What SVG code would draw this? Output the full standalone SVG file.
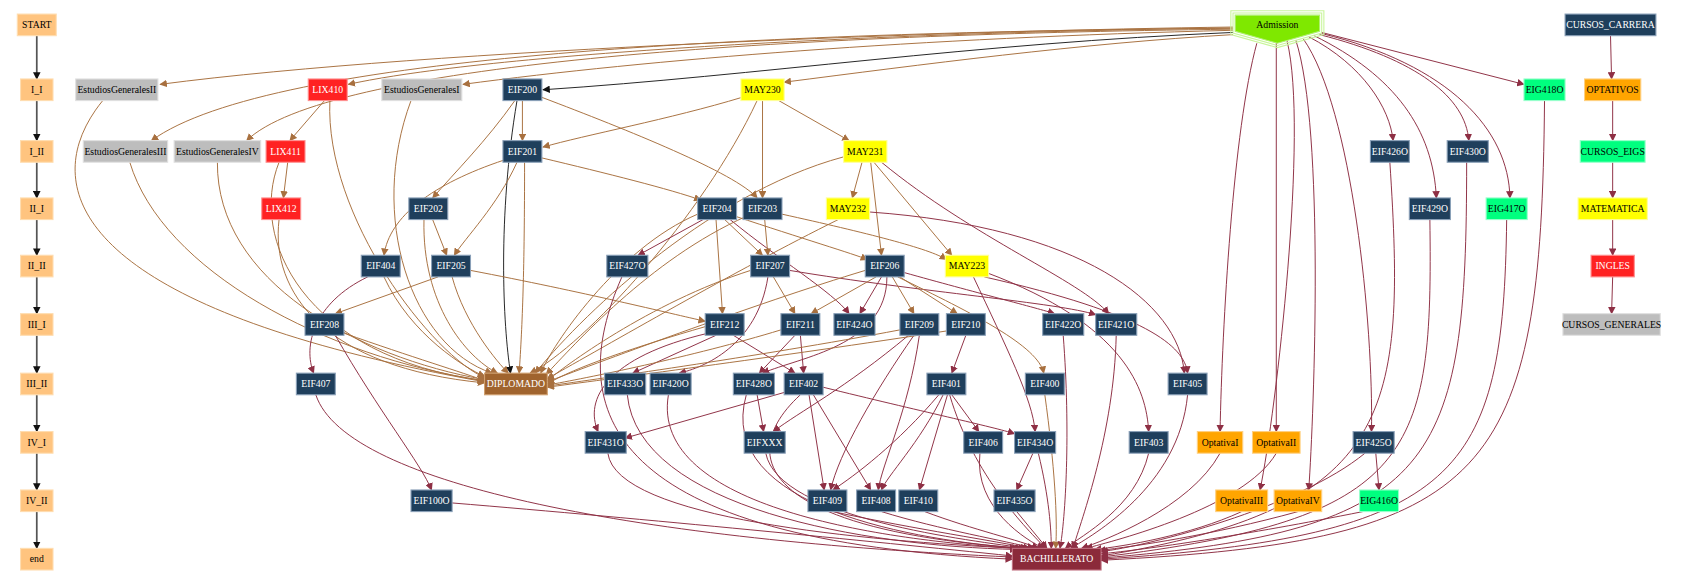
<svg xmlns="http://www.w3.org/2000/svg" width="1696" height="583" viewBox="0 0 1696 583">
<style>
text{font-family:"Liberation Serif","Times New Roman",serif;font-size:9px;text-anchor:middle}
.n rect{stroke-width:1}
.nv rect{fill:#1F3F5C;stroke:#8AA0B8}.nv text{fill:#fff}
.lv rect{fill:#FFC47F;stroke:#FFDDB0}.lv text{fill:#000}
.gr rect{fill:#BDBDBD;stroke:#E0E0E0}.gr text{fill:#000}
.rd rect{fill:#FF2222;stroke:#FF9090}.rd text{fill:#fff}
.ye rect{fill:#FFFF00;stroke:#FFFF99}.ye text{fill:#000}
.gn rect{fill:#00FF7F;stroke:#99FFCC}.gn text{fill:#000}
.or rect{fill:#FFA500;stroke:#FFD080}.or text{fill:#000}
.dp rect{fill:#A0642E;stroke:#D0A070}.dp text{fill:#fff}
.bc rect{fill:#8B2A3A;stroke:#C07080}.bc text{fill:#fff}
#edges path{fill:none;stroke-width:0.9}
.b{stroke:#A8703F;marker-end:url(#ab)}
.m{stroke:#8E2F44;marker-end:url(#am)}
.k{stroke:#222;marker-end:url(#ak)}
.kc{stroke:#555;stroke-width:1.6!important;marker-end:url(#ak)}
</style>
<defs>
<marker id="ab" viewBox="0 0 10 10" refX="9" refY="5" markerWidth="7" markerHeight="7" orient="auto" markerUnits="userSpaceOnUse"><path d="M0,0L10,5L0,10z" fill="#A8703F"/></marker>
<marker id="am" viewBox="0 0 10 10" refX="9" refY="5" markerWidth="7" markerHeight="7" orient="auto" markerUnits="userSpaceOnUse"><path d="M0,0L10,5L0,10z" fill="#8E2F44"/></marker>
<marker id="ak" viewBox="0 0 10 10" refX="9" refY="5" markerWidth="7" markerHeight="7" orient="auto" markerUnits="userSpaceOnUse"><path d="M0,0L10,5L0,10z" fill="#111"/></marker>
</defs>
<rect width="1696" height="583" fill="#fff"/>
<g transform="scale(1.0816)">
<g id="edges">
<path class="kc" d="M34,33L34,73"/><path class="kc" d="M34,93L34,130"/><path class="kc" d="M34,150L34,183"/><path class="kc" d="M34,203L34,236"/><path class="kc" d="M34,256L34,290"/><path class="kc" d="M34,310L34,345"/><path class="kc" d="M34,365L34,399"/><path class="kc" d="M34,419L34,453"/><path class="kc" d="M34,473L34,507"/>
<path class="m" d="M1489,33L1490,73"/><path class="m" d="M1491,93L1491,130"/><path class="m" d="M1491,150L1491,183"/><path class="m" d="M1491,203L1491,236"/><path class="m" d="M1491,256L1490,290"/>
<path class="b" d="M1140,25C900,28 400,45 148,78"/>
<path class="b" d="M1140,26C700,30 250,50 140,130"/>
<path class="b" d="M1140,27C700,32 300,60 228,130"/>
<path class="b" d="M1140,26C800,30 450,50 322,78"/>
<path class="b" d="M1140,28C850,35 600,55 428,78"/>
<path class="k" d="M1140,30C900,40 700,70 502,83"/>
<path class="b" d="M1140,32C1000,40 850,60 725,76"/>
<path class="m" d="M1162,40C1140,120 1130,300 1128,399"/>
<path class="m" d="M1180,40L1180,399"/>
<path class="m" d="M1190,38C1210,120 1180,380 1165,453"/>
<path class="m" d="M1198,37C1225,120 1215,380 1210,453"/>
<path class="m" d="M1205,36C1250,100 1270,300 1268,399"/>
<path class="m" d="M1210,34C1260,60 1285,100 1288,130"/>
<path class="m" d="M1215,33C1290,70 1325,120 1328,183"/>
<path class="m" d="M1220,32C1310,55 1355,90 1358,130"/>
<path class="m" d="M1222,31C1340,60 1395,120 1396,183"/>
<path class="m" d="M1222,30L1409,78"/>
<path class="b" d="M300,93L268,130"/>
<path class="b" d="M266,150L262,183"/>
<path class="b" d="M305,93C300,200 400,330 450,350"/>
<path class="b" d="M258,150C230,220 280,330 448,352"/>
<path class="b" d="M258,203C250,270 300,340 448,354"/>
<path class="b" d="M95,93C40,160 40,280 448,353"/>
<path class="b" d="M120,150C150,250 300,330 448,352"/>
<path class="b" d="M201,150C200,260 330,330 448,351"/>
<path class="b" d="M380,93C340,200 380,320 455,345"/>
<path class="b" d="M483,93L483,130"/>
<path class="b" d="M476,93C450,130 420,160 400,183"/>
<path class="b" d="M501,90C580,120 680,160 700,183"/>
<path class="k" d="M478,93C460,200 465,300 472,345"/>
<path class="b" d="M686,90C620,110 540,125 502,136"/>
<path class="b" d="M720,93L785,130"/>
<path class="b" d="M705,93L705,183"/>
<path class="b" d="M700,93C650,200 540,320 490,345"/>
<path class="b" d="M501,146C560,160 620,175 648,185"/>
<path class="b" d="M478,150C460,190 430,220 420,236"/>
<path class="b" d="M466,148C400,170 360,200 355,236"/>
<path class="b" d="M485,150C485,250 483,300 480,345"/>
<path class="b" d="M400,203L413,236"/>
<path class="b" d="M392,203C390,280 430,330 460,345"/>
<path class="b" d="M797,150L788,183"/>
<path class="b" d="M805,150L815,236"/>
<path class="b" d="M808,150L880,236"/>
<path class="b" d="M780,145C650,180 530,300 495,345"/>
<path class="m" d="M815,150C900,220 1000,260 1025,290"/>
<path class="b" d="M670,203L705,236"/>
<path class="b" d="M662,203L668,290"/>
<path class="b" d="M680,200C740,220 790,235 802,240"/>
<path class="m" d="M650,203L590,236"/>
<path class="m" d="M675,203C720,240 770,270 785,290"/>
<path class="b" d="M645,198C570,230 510,320 500,345"/>
<path class="b" d="M707,203L710,236"/>
<path class="b" d="M723,198C800,215 860,230 875,240"/>
<path class="b" d="M690,200C600,240 530,320 505,346"/>
<path class="b" d="M775,203C680,250 560,320 506,350"/>
<path class="m" d="M804,196C1000,210 1090,280 1095,345"/>
<path class="m" d="M340,256C290,280 280,320 290,345"/>
<path class="b" d="M355,256C380,310 430,340 448,348"/>
<path class="b" d="M405,256L310,290"/>
<path class="b" d="M435,250C540,270 620,290 652,297"/>
<path class="b" d="M418,256C430,300 460,335 470,345"/>
<path class="m" d="M575,256C520,380 560,500 936,517"/>
<path class="b" d="M715,256L735,290"/>
<path class="m" d="M730,250C850,270 980,280 1013,291"/>
<path class="m" d="M710,256C700,320 650,340 628,345"/>
<path class="b" d="M694,250C600,280 520,340 506,352"/>
<path class="b" d="M810,256L750,290"/>
<path class="m" d="M815,256L795,290"/>
<path class="b" d="M825,256L845,290"/>
<path class="b" d="M832,256L885,290"/>
<path class="m" d="M836,252C900,270 960,285 975,290"/>
<path class="b" d="M830,256C900,290 960,320 965,345"/>
<path class="m" d="M820,256C820,320 740,330 705,345"/>
<path class="b" d="M800,250C700,280 540,340 506,353"/>
<path class="m" d="M910,256C1060,290 1095,320 1098,345"/>
<path class="m" d="M912,252C1040,300 1060,360 1062,399"/>
<path class="m" d="M900,256C930,320 955,370 957,399"/>
<path class="m" d="M310,310C350,380 390,430 399,453"/>
<path class="b" d="M318,308C380,330 430,345 448,352"/>
<path class="m" d="M662,310L585,345"/>
<path class="m" d="M678,310L735,345"/>
<path class="m" d="M655,308C560,330 540,370 553,399"/>
<path class="b" d="M652,302C590,320 530,340 506,355"/>
<path class="m" d="M735,310L702,345"/>
<path class="m" d="M740,310L743,345"/>
<path class="b" d="M722,305C640,330 540,350 506,356"/>
<path class="m" d="M845,310C810,360 775,420 768,453"/>
<path class="m" d="M850,310C840,380 815,430 812,453"/>
<path class="m" d="M840,310C780,360 740,380 715,399"/>
<path class="b" d="M832,305C700,330 540,352 506,357"/>
<path class="m" d="M893,310L880,345"/>
<path class="b" d="M875,306C720,330 550,352 506,358"/>
<path class="m" d="M728,362L578,405"/>
<path class="m" d="M748,365L762,453"/>
<path class="m" d="M752,365L805,453"/>
<path class="m" d="M761,358C850,380 920,395 938,401"/>
<path class="m" d="M700,365L706,399"/>
<path class="m" d="M880,365L905,399"/>
<path class="m" d="M868,365C830,410 790,440 770,453"/>
<path class="m" d="M872,365C850,410 820,440 815,453"/>
<path class="m" d="M876,365L850,453"/>
<path class="m" d="M955,419L940,453"/>
<path class="m" d="M1272,419L1275,453"/>
<path class="m" d="M292,365C320,450 600,500 936,515"/>
<path class="m" d="M418,465C600,480 800,500 936,514"/>
<path class="m" d="M580,365C590,470 800,505 940,508"/>
<path class="m" d="M618,365C600,470 820,500 942,507"/>
<path class="m" d="M562,419C570,480 800,500 940,507"/>
<path class="m" d="M690,365C660,470 850,500 945,507"/>
<path class="m" d="M740,365C680,420 700,490 948,507"/>
<path class="m" d="M708,419C720,480 900,500 950,507"/>
<path class="m" d="M770,473C850,490 920,500 952,507"/>
<path class="m" d="M815,473C870,490 930,500 956,507"/>
<path class="m" d="M855,473C900,490 945,500 960,507"/>
<path class="m" d="M906,419C900,470 950,500 965,507"/>
<path class="m" d="M878,365C900,440 950,490 967,507"/>
<path class="m" d="M940,473L968,507"/>
<path class="m" d="M960,419C970,460 972,490 972,507"/>
<path class="b" d="M966,365C975,430 978,480 976,507"/>
<path class="m" d="M1062,419C1050,470 1000,495 985,507"/>
<path class="m" d="M1098,365C1090,450 1010,495 990,507"/>
<path class="m" d="M1032,310C1030,400 1000,480 992,507"/>
<path class="m" d="M983,310C990,400 985,480 980,507"/>
<path class="m" d="M1128,419C1100,470 1020,500 1000,507"/>
<path class="m" d="M1180,419C1150,470 1030,500 1004,507"/>
<path class="m" d="M1148,473C1100,495 1040,505 1012,508"/>
<path class="m" d="M1200,473C1120,495 1050,505 1016,509"/>
<path class="m" d="M1262,419C1200,470 1060,505 1018,510"/>
<path class="m" d="M1260,473C1150,495 1060,508 1018,512"/>
<path class="m" d="M1285,150C1300,380 1290,470 1018,514"/>
<path class="m" d="M1322,203C1325,420 1310,480 1018,515"/>
<path class="m" d="M1356,150C1356,430 1330,490 1018,516"/>
<path class="m" d="M1393,203C1390,440 1350,495 1018,517"/>
<path class="m" d="M1428,93C1425,440 1380,500 1018,518"/>
</g>
<g id="Admission">
<polygon points="1138,10 1224,10 1224,32 1181,44 1138,32" fill="none" stroke="#C8F59A" stroke-width="1"/>
<polygon points="1140,12 1222,12 1222,30.5 1181,42 1140,30.5" fill="none" stroke="#C8F59A" stroke-width="1"/>
<polygon points="1142,14 1220,14 1220,29 1181,40 1142,29" fill="#7FE800" stroke="#B0F070" stroke-width="1"/>
<text x="1181" y="26">Admission</text>
</g>
<g id="START" class="n lv"><rect x="16" y="13" width="36" height="20"/><text x="34" y="26">START</text></g>
<g id="I_I" class="n lv"><rect x="19" y="73" width="30" height="20"/><text x="34" y="86">I_I</text></g>
<g id="I_II" class="n lv"><rect x="19" y="130" width="30" height="20"/><text x="34" y="143">I_II</text></g>
<g id="II_I" class="n lv"><rect x="19" y="183" width="30" height="20"/><text x="34" y="196">II_I</text></g>
<g id="II_II" class="n lv"><rect x="19" y="236" width="30" height="20"/><text x="34" y="249">II_II</text></g>
<g id="III_I" class="n lv"><rect x="19" y="290" width="30" height="20"/><text x="34" y="303">III_I</text></g>
<g id="III_II" class="n lv"><rect x="19" y="345" width="30" height="20"/><text x="34" y="358">III_II</text></g>
<g id="IV_I" class="n lv"><rect x="19" y="399" width="30" height="20"/><text x="34" y="412">IV_I</text></g>
<g id="IV_II" class="n lv"><rect x="19" y="453" width="30" height="20"/><text x="34" y="466">IV_II</text></g>
<g id="end" class="n lv"><rect x="19" y="507" width="30" height="20"/><text x="34" y="520">end</text></g>
<g id="EstudiosGeneralesII" class="n gr"><rect x="70" y="73" width="76" height="20"/><text x="108" y="86">EstudiosGeneralesII</text></g>
<g id="LIX410" class="n rd"><rect x="285" y="73" width="36" height="20"/><text x="303" y="86">LIX410</text></g>
<g id="EstudiosGeneralesI" class="n gr"><rect x="353" y="73" width="74" height="20"/><text x="390" y="86">EstudiosGeneralesI</text></g>
<g id="EIF200" class="n nv"><rect x="465" y="73" width="36" height="20"/><text x="483" y="86">EIF200</text></g>
<g id="MAY230" class="n ye"><rect x="685" y="73" width="40" height="20"/><text x="705" y="86">MAY230</text></g>
<g id="CURSOS_CARRERA" class="n nv"><rect x="1447" y="13" width="84" height="20"/><text x="1489" y="26">CURSOS_CARRERA</text></g>
<g id="EIG418O" class="n gn"><rect x="1409" y="73" width="38" height="20"/><text x="1428" y="86">EIG418O</text></g>
<g id="OPTATIVOS" class="n or"><rect x="1465" y="73" width="52" height="20"/><text x="1491" y="86">OPTATIVOS</text></g>
<g id="EstudiosGeneralesIII" class="n gr"><rect x="77" y="130" width="78" height="20"/><text x="116" y="143">EstudiosGeneralesIII</text></g>
<g id="EstudiosGeneralesIV" class="n gr"><rect x="161" y="130" width="80" height="20"/><text x="201" y="143">EstudiosGeneralesIV</text></g>
<g id="LIX411" class="n rd"><rect x="246" y="130" width="36" height="20"/><text x="264" y="143">LIX411</text></g>
<g id="EIF201" class="n nv"><rect x="465" y="130" width="36" height="20"/><text x="483" y="143">EIF201</text></g>
<g id="MAY231" class="n ye"><rect x="780" y="130" width="40" height="20"/><text x="800" y="143">MAY231</text></g>
<g id="EIF426O" class="n nv"><rect x="1267" y="130" width="36" height="20"/><text x="1285" y="143">EIF426O</text></g>
<g id="EIF430O" class="n nv"><rect x="1338" y="130" width="38" height="20"/><text x="1357" y="143">EIF430O</text></g>
<g id="CURSOS_EIGS" class="n gn"><rect x="1461" y="130" width="60" height="20"/><text x="1491" y="143">CURSOS_EIGS</text></g>
<g id="LIX412" class="n rd"><rect x="242" y="183" width="36" height="20"/><text x="260" y="196">LIX412</text></g>
<g id="EIF202" class="n nv"><rect x="378" y="183" width="36" height="20"/><text x="396" y="196">EIF202</text></g>
<g id="EIF204" class="n nv"><rect x="645" y="183" width="36" height="20"/><text x="663" y="196">EIF204</text></g>
<g id="EIF203" class="n nv"><rect x="687" y="183" width="36" height="20"/><text x="705" y="196">EIF203</text></g>
<g id="MAY232" class="n ye"><rect x="764" y="183" width="40" height="20"/><text x="784" y="196">MAY232</text></g>
<g id="EIF429O" class="n nv"><rect x="1303" y="183" width="38" height="20"/><text x="1322" y="196">EIF429O</text></g>
<g id="EIG417O" class="n gn"><rect x="1374" y="183" width="38" height="20"/><text x="1393" y="196">EIG417O</text></g>
<g id="MATEMATICA" class="n ye"><rect x="1459" y="183" width="64" height="20"/><text x="1491" y="196">MATEMATICA</text></g>
<g id="EIF404" class="n nv"><rect x="334" y="236" width="36" height="20"/><text x="352" y="249">EIF404</text></g>
<g id="EIF205" class="n nv"><rect x="399" y="236" width="36" height="20"/><text x="417" y="249">EIF205</text></g>
<g id="EIF427O" class="n nv"><rect x="561" y="236" width="38" height="20"/><text x="580" y="249">EIF427O</text></g>
<g id="EIF207" class="n nv"><rect x="694" y="236" width="36" height="20"/><text x="712" y="249">EIF207</text></g>
<g id="EIF206" class="n nv"><rect x="800" y="236" width="36" height="20"/><text x="818" y="249">EIF206</text></g>
<g id="MAY223" class="n ye"><rect x="874" y="236" width="40" height="20"/><text x="894" y="249">MAY223</text></g>
<g id="INGLES" class="n rd"><rect x="1471" y="236" width="40" height="20"/><text x="1491" y="249">INGLES</text></g>
<g id="EIF208" class="n nv"><rect x="282" y="290" width="36" height="20"/><text x="300" y="303">EIF208</text></g>
<g id="EIF212" class="n nv"><rect x="652" y="290" width="36" height="20"/><text x="670" y="303">EIF212</text></g>
<g id="EIF211" class="n nv"><rect x="722" y="290" width="36" height="20"/><text x="740" y="303">EIF211</text></g>
<g id="EIF424O" class="n nv"><rect x="771" y="290" width="38" height="20"/><text x="790" y="303">EIF424O</text></g>
<g id="EIF209" class="n nv"><rect x="832" y="290" width="36" height="20"/><text x="850" y="303">EIF209</text></g>
<g id="EIF210" class="n nv"><rect x="875" y="290" width="36" height="20"/><text x="893" y="303">EIF210</text></g>
<g id="EIF422O" class="n nv"><rect x="964" y="290" width="38" height="20"/><text x="983" y="303">EIF422O</text></g>
<g id="EIF421O" class="n nv"><rect x="1013" y="290" width="38" height="20"/><text x="1032" y="303">EIF421O</text></g>
<g id="CURSOS_GENERALES" class="n gr"><rect x="1445" y="290" width="90" height="20"/><text x="1490" y="303">CURSOS_GENERALES</text></g>
<g id="EIF407" class="n nv"><rect x="274" y="345" width="36" height="20"/><text x="292" y="358">EIF407</text></g>
<g id="DIPLOMADO" class="n dp"><rect x="448" y="345" width="58" height="20"/><text x="477" y="358">DIPLOMADO</text></g>
<g id="EIF433O" class="n nv"><rect x="559" y="345" width="38" height="20"/><text x="578" y="358">EIF433O</text></g>
<g id="EIF420O" class="n nv"><rect x="601" y="345" width="38" height="20"/><text x="620" y="358">EIF420O</text></g>
<g id="EIF428O" class="n nv"><rect x="678" y="345" width="38" height="20"/><text x="697" y="358">EIF428O</text></g>
<g id="EIF402" class="n nv"><rect x="725" y="345" width="36" height="20"/><text x="743" y="358">EIF402</text></g>
<g id="EIF401" class="n nv"><rect x="857" y="345" width="36" height="20"/><text x="875" y="358">EIF401</text></g>
<g id="EIF400" class="n nv"><rect x="948" y="345" width="36" height="20"/><text x="966" y="358">EIF400</text></g>
<g id="EIF405" class="n nv"><rect x="1080" y="345" width="36" height="20"/><text x="1098" y="358">EIF405</text></g>
<g id="EIF431O" class="n nv"><rect x="541" y="399" width="38" height="20"/><text x="560" y="412">EIF431O</text></g>
<g id="EIFXXX" class="n nv"><rect x="688" y="399" width="38" height="20"/><text x="707" y="412">EIFXXX</text></g>
<g id="EIF406" class="n nv"><rect x="891" y="399" width="36" height="20"/><text x="909" y="412">EIF406</text></g>
<g id="EIF434O" class="n nv"><rect x="938" y="399" width="38" height="20"/><text x="957" y="412">EIF434O</text></g>
<g id="EIF403" class="n nv"><rect x="1044" y="399" width="36" height="20"/><text x="1062" y="412">EIF403</text></g>
<g id="OptativaI" class="n or"><rect x="1107" y="399" width="42" height="20"/><text x="1128" y="412">OptativaI</text></g>
<g id="OptativaII" class="n or"><rect x="1158" y="399" width="44" height="20"/><text x="1180" y="412">OptativaII</text></g>
<g id="EIF425O" class="n nv"><rect x="1251" y="399" width="38" height="20"/><text x="1270" y="412">EIF425O</text></g>
<g id="EIF100O" class="n nv"><rect x="380" y="453" width="38" height="20"/><text x="399" y="466">EIF100O</text></g>
<g id="EIF409" class="n nv"><rect x="747" y="453" width="36" height="20"/><text x="765" y="466">EIF409</text></g>
<g id="EIF408" class="n nv"><rect x="792" y="453" width="36" height="20"/><text x="810" y="466">EIF408</text></g>
<g id="EIF410" class="n nv"><rect x="831" y="453" width="36" height="20"/><text x="849" y="466">EIF410</text></g>
<g id="EIF435O" class="n nv"><rect x="919" y="453" width="38" height="20"/><text x="938" y="466">EIF435O</text></g>
<g id="OptativaIII" class="n or"><rect x="1124" y="453" width="48" height="20"/><text x="1148" y="466">OptativaIII</text></g>
<g id="OptativaIV" class="n or"><rect x="1178" y="453" width="44" height="20"/><text x="1200" y="466">OptativaIV</text></g>
<g id="EIG416O" class="n gn"><rect x="1257" y="453" width="36" height="20"/><text x="1275" y="466">EIG416O</text></g>
<g id="BACHILLERATO" class="n bc"><rect x="936" y="507" width="82" height="20"/><text x="977" y="520">BACHILLERATO</text></g>
</g>
</svg>
